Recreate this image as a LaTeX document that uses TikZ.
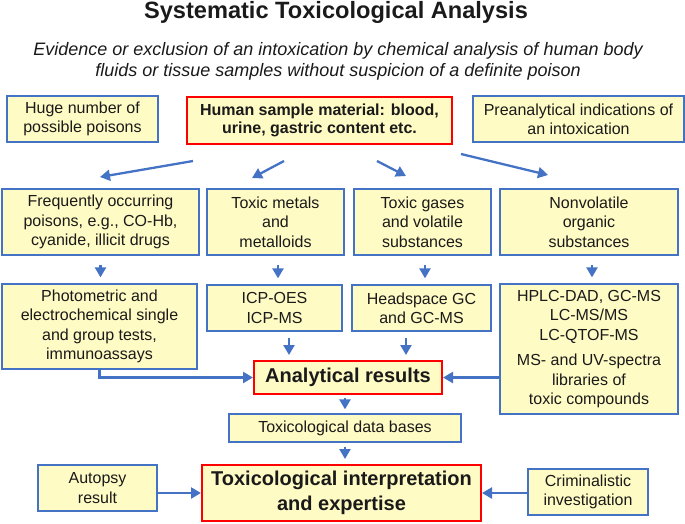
\documentclass[tikz,border=0pt]{standalone}
\usepackage{fontspec}
\setmainfont{Liberation Sans}
\usetikzlibrary{arrows.meta,calc}
\definecolor{bxfill}{HTML}{FFFBC4}
\definecolor{bxblue}{HTML}{4472C4}
\definecolor{bxred}{HTML}{FF0000}
\definecolor{txt}{HTML}{1A1A1A}
\tikzset{
  bbox/.style={draw=bxblue, fill=bxfill, line width=1.3pt, inner sep=0pt, align=center, text=txt,
    font=\fontsize{16}{19.3}\selectfont},
  rbox/.style={bbox, draw=bxred, line width=2pt},
  arr/.style={draw=bxblue, line width=2.3pt, -{Triangle[length=10pt,width=11pt]}},
}
\begin{document}
\begin{tikzpicture}[x=1pt,y=-1pt]
\useasboundingbox (0,0) rectangle (685,523);
% title
\node[anchor=base, text=txt, font=\bfseries\fontsize{23.6}{28}\selectfont] (title) at (336,18) {Systematic Toxicological Analysis};
\node[anchor=base, text=txt, font=\itshape\fontsize{18}{21}\selectfont] (sub1) at (338,55) {Evidence or exclusion of an intoxication by chemical analysis of human body};
\node[anchor=base, text=txt, font=\itshape\fontsize{18}{21}\selectfont] (sub2) at (338,76) {fluids or tissue samples without suspicion of a definite poison};
% row 1
\node[bbox, minimum width=151pt, minimum height=46pt] (huge) at (82.5,119) {Huge number of\\possible poisons};
\node[rbox, minimum width=265pt, minimum height=47pt, font=\bfseries\fontsize{16}{18.7}\selectfont] (human) at (319.5,120.5) {Human sample material: blood,\\urine, gastric content etc.};
\node[bbox, minimum width=211pt, minimum height=46pt] (pre) at (578.5,119) {Preanalytical indications of\\an intoxication};
% row 2
\node[bbox, minimum width=197pt, minimum height=66pt] (A) at (100.5,222) {Frequently occurring\\poisons, e.g., CO-Hb,\\cyanide, illicit drugs};
\node[bbox, minimum width=137pt, minimum height=66pt] (B) at (275.5,222) {Toxic metals\\and\\metalloids};
\node[bbox, minimum width=137pt, minimum height=66pt] (C) at (422.5,222) {Toxic gases\\and volatile\\substances};
\node[bbox, minimum width=178pt, minimum height=66pt] (D) at (589,222) {Nonvolatile\\organic\\substances};
% row 3
\node[bbox, minimum width=195pt, minimum height=85pt] (A2) at (99.5,326.5) {Photometric and\\electrochemical single\\and group tests,\\immunoassays};
\node[bbox, minimum width=135pt, minimum height=46pt] (B2) at (274.5,308) {ICP-OES\\ICP-MS};
\node[bbox, minimum width=139pt, minimum height=46pt] (C2) at (421.5,308) {Headspace GC\\and GC-MS};
\node[bbox, minimum width=178pt, minimum height=130pt] (D2) at (589,349) {HPLC-DAD, GC-MS\\LC-MS/MS\\LC-QTOF-MS\\[6.5pt]MS- and UV-spectra\\libraries of\\toxic compounds};
% results
\node[rbox, minimum width=188pt, minimum height=33pt, font=\bfseries\fontsize{20}{24}\selectfont] (ana) at (348,377.5) {Analytical results};
\node[bbox, minimum width=232pt, minimum height=28pt] (db) at (345,428) {Toxicological data bases};
\node[rbox, minimum width=279pt, minimum height=56pt, font=\bfseries\fontsize{20}{25}\selectfont] (tox) at (341.5,493) {Toxicological interpretation\\and expertise};
\node[bbox, minimum width=119pt, minimum height=46pt] (aut) at (97.5,488) {Autopsy\\result};
\node[bbox, minimum width=120pt, minimum height=46pt] (crim) at (588,492) {Criminalistic\\investigation};
% diagonal arrows
\coordinate (d1s) at (193,161); \coordinate (d1e) at (100,177);
\coordinate (d2s) at (284,161); \coordinate (d2e) at (252,178);
\coordinate (d3s) at (377,161); \coordinate (d3e) at (406,176);
\coordinate (d4s) at (461,154); \coordinate (d4e) at (548,175);
\draw[arr] (d1s) -- (d1e);
\draw[arr] (d2s) -- (d2e);
\draw[arr] (d3s) -- (d3e);
\draw[arr] (d4s) -- (d4e);
% vertical arrows row 2 -> row 3
\draw[arr, shorten <=9pt, shorten >=6pt] (A.south) -- (A.south |- A2.north);
\draw[arr, shorten <=9pt, shorten >=6pt] ([xshift=2.5pt]B.south) -- ([xshift=2.5pt]B.south |- B2.north);
\draw[arr, shorten <=9pt, shorten >=6pt] ([xshift=2.5pt]C.south) -- ([xshift=2.5pt]C.south |- C2.north);
\draw[arr, shorten <=9pt, shorten >=6pt] ([xshift=3pt]D.south) -- ([xshift=3pt]D.south |- D2.north);
% row 3 -> analytical
\draw[arr, shorten <=6pt, shorten >=5pt] ([xshift=14.5pt]B2.south) -- ([xshift=14.5pt]B2.south |- ana.north);
\draw[arr, shorten <=6pt, shorten >=5pt] ([xshift=-15.5pt]C2.south) -- ([xshift=-15.5pt]C2.south |- ana.north);
\draw[arr] (A2.south) |- (ana.west);
\draw[arr] (D2.west |- ana.west) -- (ana.east);
% results chain
\draw[arr, shorten <=3pt, shorten >=4pt] ([xshift=-3pt]ana.south) -- ([xshift=-3pt]ana.south |- db.north);
\draw[arr, shorten <=4pt, shorten >=5pt] (db.south) -- (db.south |- tox.north);
\draw[arr] (aut.east |- tox.west) -- (tox.west);
\draw[arr] (crim.west |- tox.east) -- (tox.east);
\end{tikzpicture}
\end{document}
